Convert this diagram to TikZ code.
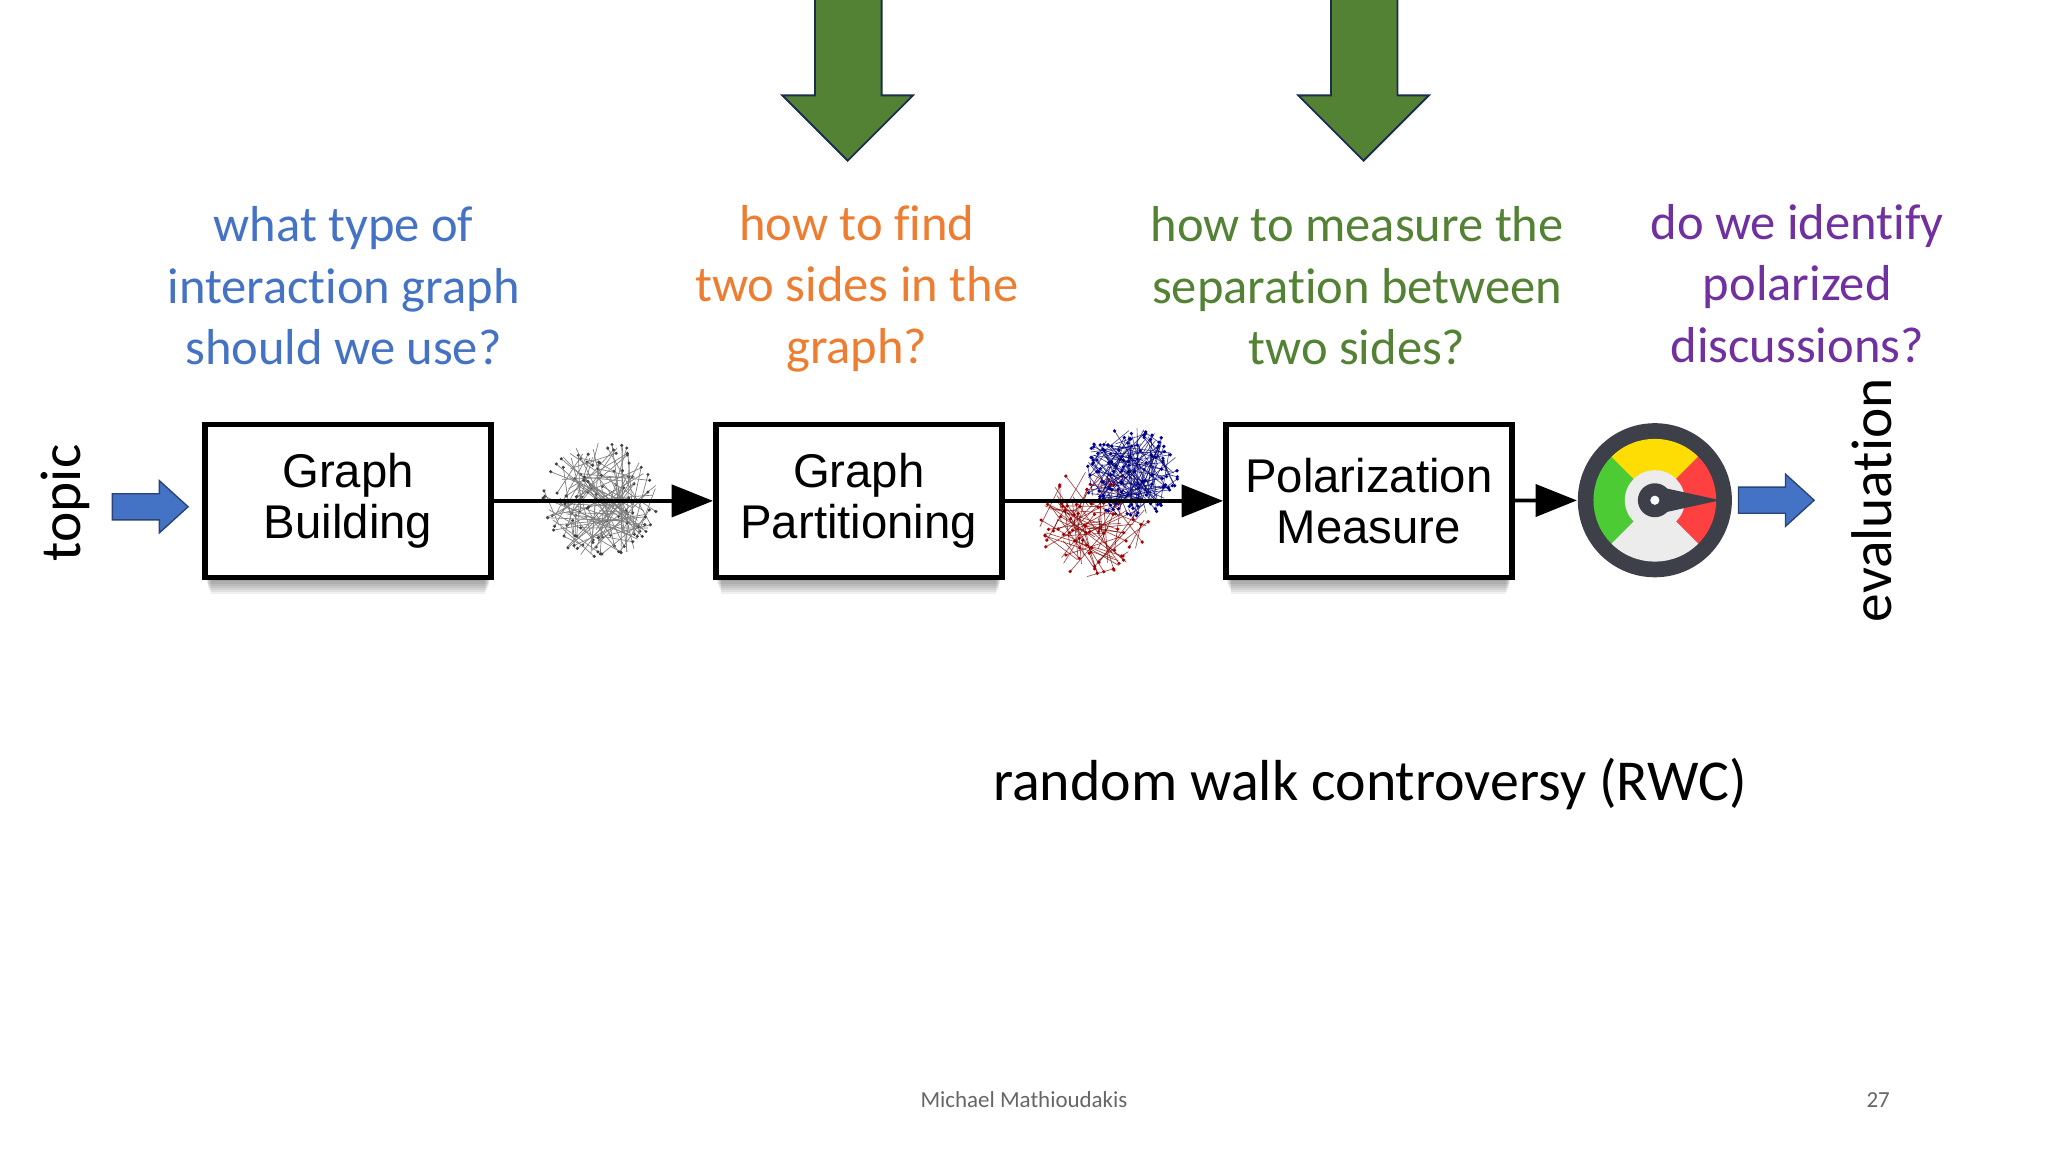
\documentclass[tikz,border=0pt]{standalone}
\usepackage{fontspec}
\setmainfont{Carlito}[Ligatures={NoCommon}]
\newfontfamily\arialf{Liberation Sans}
\usetikzlibrary{arrows.meta,calc}
\definecolor{qblue}{HTML}{4472C4}
\definecolor{qorange}{HTML}{ED7D31}
\definecolor{qgreen}{HTML}{548235}
\definecolor{qpurple}{HTML}{7030A0}
\definecolor{agreen}{HTML}{548235}
\definecolor{gdark}{HTML}{3D4049}
\begin{document}
\begin{tikzpicture}[x=0.01cm,y=-0.01cm,
  box/.style={draw,line width=1.2pt,fill=white,minimum width=219*0.01cm,minimum height=117*0.01cm,align=center,font=\arialf\fontsize{10.3}{11.2}\selectfont},
  q/.style={align=center,font=\fontsize{11}{13.4}\selectfont},
  conn/.style={-{Triangle[length=9pt,width=7pt]},line width=0.8pt},
  gd/.style={fill=agreen,draw=qblue!40!black,line width=0.4pt},
  bd/.style={fill=qblue,draw=qblue!60!black,line width=0.3pt}]
\useasboundingbox (0,0) rectangle (1568,882);
\fill[white] (0,0) rectangle (1568,882);
% green down arrows
\foreach \cx in {649,1044}{
 \draw[gd] (\cx-25,-2) -- (\cx+26,-2) -- (\cx+26,73) -- (\cx+50,73) -- (\cx,123) -- (\cx-50,73) -- (\cx-25,73) -- cycle;}
% questions
\node[q,text=qblue] (q1) at (263,219) {what type of\\interaction graph\\should we use?};
\node[q,text=qorange] (q2) at (656,221) {how to find\\two sides in the\\graph?};
\node[q,text=qgreen] (q3) at (1039,219) {how to measure the\\separation between\\two sides?};
\node[q,text=qpurple] (q4) at (1376,217) {do we identify\\polarized\\discussions?};
% box shadows
\foreach \bx in {266.5,657.5,1048}{
  \foreach \k in {1,...,8}{
    \fill[black,opacity=0.06] (\bx-110+\k*0.6,325+\k*1.2) rectangle (\bx+110-\k*0.6,442+\k*1.6);}}
% boxes
\node[box] (b1) at (266.5,383.5) {Graph\\Building};
\node[box] (b2) at (657.5,383.5) {Graph\\Partitioning};
\node[box] (b3) at (1048,383.5) {Polarization\\Measure};
% networks
\pgfmathsetseed{7}
\foreach \i in {1,...,110}{
  \pgfmathsetmacro\ra{360*rnd}\pgfmathsetmacro\rr{45*sqrt(rnd)}
  \pgfmathsetmacro\rb{360*rnd}\pgfmathsetmacro\rs{45*sqrt(rnd)}
  \draw[black!50,line width=0.15pt] ($(460,383)+(\ra:\rr)$) -- ($(460,383)+(\rb:\rs)$);
  \fill[black!75] ($(460,383)+(\ra:\rr)$) circle (1.3);}
\foreach \i in {1,...,80}{
  \pgfmathsetmacro\ra{360*rnd}\pgfmathsetmacro\rr{42*sqrt(rnd)}
  \pgfmathsetmacro\rb{360*rnd}\pgfmathsetmacro\rs{42*sqrt(rnd)}
  \draw[red!50!black,opacity=0.7,line width=0.15pt] ($(838,400)+(\ra:\rr)$) -- ($(838,400)+(\rb:\rs)$);
  \fill[red!70!black] ($(838,400)+(\ra:\rr)$) circle (1.4);}
\foreach \i in {1,...,130}{
  \pgfmathsetmacro\ra{360*rnd}\pgfmathsetmacro\rr{36*sqrt(rnd)}
  \pgfmathsetmacro\rb{360*rnd}\pgfmathsetmacro\rs{36*sqrt(rnd)}
  \draw[blue!45!black,opacity=0.7,line width=0.15pt] ($(866,362)+(\ra:\rr)$) -- ($(866,362)+(\rb:\rs)$);
  \fill[blue!60!black] ($(866,362)+(\ra:\rr)$) circle (1.4);}
% gauge (y axis points down: angle 270 = up)
\coordinate (gc) at (1267,383);
\fill[gdark] (gc) circle (59);
\fill[green!55!gray!90!yellow] (gc) -- ++(135:47) arc[start angle=135,end angle=225,radius=47] -- cycle;
\fill[yellow!80!orange] (gc) -- ++(225:47) arc[start angle=225,end angle=315,radius=47] -- cycle;
\fill[red!75!white] (gc) -- ++(-45:47) arc[start angle=-45,end angle=45,radius=47] -- cycle;
\fill[gray!15] (gc) -- ++(45:47) arc[start angle=45,end angle=135,radius=47] -- cycle;
\fill[gray!15] (gc) circle (23);
\fill[gdark] (gc) circle (13);
\fill[gdark] ($(gc)+(0,-11)$) -- ++(50,11) -- ++(-50,11) -- cycle;
\fill[white] (gc) circle (3.5);
\node[inner sep=0pt,minimum size=118*0.01cm] (gauge) at (gc) {};
% connectors
\draw[conn] (b1) -- (b2);
\draw[conn] (b2) -- (b3);
\draw[conn] (b3) -- (gauge);
% fat arrows
\foreach \sx/\sy in {86/388,1331/383}{
 \draw[bd] (\sx,\sy-10) -- (\sx+36,\sy-10) -- (\sx+36,\sy-20) -- (\sx+58,\sy) -- (\sx+36,\sy+20) -- (\sx+36,\sy+10) -- (\sx,\sy+10) -- cycle;}
\node[rotate=90,font=\fontsize{12.5}{14}\selectfont] (topic) at (50,385) {topic};
\node[rotate=90,font=\fontsize{12.5}{14}\selectfont] (eval) at (1433,383) {evaluation};
\node[font=\fontsize{12.6}{14}\selectfont] (rwc) at (1049,600) {random walk controversy (RWC)};
\node[font=\fontsize{5}{6}\selectfont,text=black!60] (ft) at (784,842) {Michael Mathioudakis};
\node[font=\fontsize{5}{6}\selectfont,text=black!60] (pg) at (1438,842) {27};
\end{tikzpicture}
\end{document}
